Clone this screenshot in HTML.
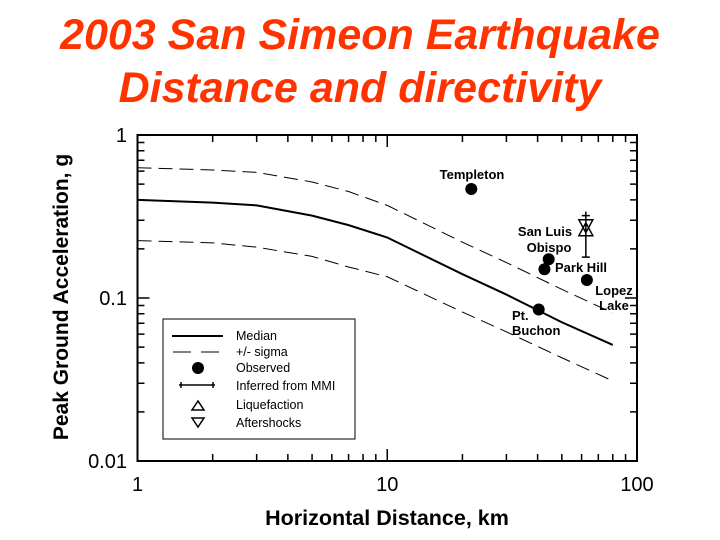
<!DOCTYPE html>
<html><head><meta charset="utf-8"><style>
body{margin:0;background:#fff;width:720px;height:540px;overflow:hidden;font-family:"Liberation Sans",sans-serif}
.t{position:absolute;left:0;width:720px;text-align:center;color:#ff3300;font-style:italic;font-weight:bold;font-size:43px;line-height:50px;white-space:nowrap}
</style></head><body>
<div class="t" style="top:10px">2003 San Simeon Earthquake</div>
<div class="t" style="top:63px">Distance and directivity</div>
<svg id="c" width="720" height="540" style="position:absolute;left:0;top:0"></svg>
<script>
const dist=[1,2,3,5,7,10,20,30,50,80];
const median=[0.40,0.385,0.37,0.32,0.28,0.235,0.14,0.105,0.071,0.0515];
const upper=[0.63,0.61,0.59,0.515,0.45,0.37,0.22,0.165,0.113,0.081];
const lower=[0.225,0.218,0.205,0.18,0.155,0.135,0.082,0.062,0.043,0.031];
const obsNames=["Templeton","San Luis Obispo","San Luis Obispo 2","Lopez Lake","Pt. Buchon"];
const obsDist=[21.7,44.3,42.6,63,40.4];
const obsPga=[0.466,0.173,0.15,0.129,0.085];
const mmiDist=[62.4];const mmiLo=[0.178];const mmiHi=[0.32];const liqPga=[0.27];
const xTicks=[1,10,100];const yTicks=[1,0.1,0.01];const yTickLabels=["1","0.1","0.01"];
const L=137.5,R=637,T=135,B=461;
const X=d=>L+(R-L)/2*Math.log10(d);
const Y=v=>T+(B-T)/2*(-Math.log10(v));
const s=document.getElementById('c');const NS='http://www.w3.org/2000/svg';
function mk(tag,a,p){const e=document.createElementNS(NS,tag);for(const k in a)e.setAttribute(k,a[k]);(p||s).appendChild(e);return e;}
let f=mk('rect',{x:L,y:T,width:R-L,height:B-T,fill:'none',stroke:'#000','stroke-width':2});


let tp='';
for(let dec=0;dec<2;dec++)for(let k=1;k<=9;k++){const v=Math.pow(10,dec)*k;const x=X(v);const len=k==1?12:7;
 tp+=`M${x},${B}v${-len}M${x},${T}v${len}`;
 const y=Y(Math.pow(10,-dec-1)*k*1);const ylen=k==1?12:7;
 tp+=`M${L},${y}h${ylen}M${R},${y}h${-ylen}`;}
let tk=mk('path',{d:tp,stroke:'#000','stroke-width':1.5,fill:'none'});


xTicks.forEach(v=>{const t=mk('text',{x:X(v),y:B+30,'text-anchor':'middle','font-size':20});t.textContent=String(v);

});
yTicks.forEach((v,i)=>{const t=mk('text',{x:127,y:Y(v)+7,'text-anchor':'end','font-size':20});t.textContent=yTickLabels[i];

});
let xt=mk('text',{x:387,y:525,'text-anchor':'middle','font-size':21.5,'font-weight':'bold'});xt.textContent='Horizontal Distance, km';


let yt=mk('text',{x:0,y:0,transform:'translate(68,297) rotate(-90)','text-anchor':'middle','font-size':21,'font-weight':'bold'});yt.textContent='Peak Ground Acceleration, g';


const pts=a=>dist.map((d,i)=>X(d)+','+Y(a[i])).join(' ');
let m=mk('polyline',{points:pts(median),fill:'none',stroke:'#000','stroke-width':2});


[upper,lower].forEach((a,i)=>{const p=mk('polyline',{points:pts(a),fill:'none',stroke:'#000','stroke-width':1,'stroke-dasharray':'14,7'});

});
obsDist.forEach((d,i)=>{const c=mk('circle',{cx:X(d),cy:Y(obsPga[i]),r:6,fill:'#000'});

});
mmiDist.forEach((d,i)=>{const x=X(d),y1=Y(mmiHi[i]),y2=Y(mmiLo[i]),yc=Y(liqPga[i]);
const g=mk('path',{d:`M${x},${y1-4}V${y2}M${x-4},${y1}h8M${x-4},${y2}h8M${x-7},${yc-8}h14l-7,13zM${x-7},${yc+8}h14l-7,-13z`,stroke:'#000','stroke-width':1.5,fill:'none'});

});
const labs=[["Templeton",472,179,'middle'],["San Luis",545,236,'middle'],["Obispo",549,252,'middle'],["Park Hill",555,272,'start'],["Lopez",614,295,'middle'],["Lake",614,310,'middle'],["Pt.",512,320,'start'],["Buchon",512,335,'start']];
labs.forEach(l=>{const t=mk('text',{x:l[1],y:l[2],'text-anchor':l[3],'font-size':13,'font-weight':'bold'});t.textContent=l[0];

});
let lg=mk('g',{});


mk('rect',{x:163,y:319,width:192,height:120,fill:'#fff',stroke:'#000','stroke-width':1},lg);
const items=[['Median',336],['+/- sigma',352],['Observed',368],['Inferred from MMI',386],['Liquefaction',405],['Aftershocks',423]];
items.forEach(it=>{const t=mk('text',{x:236,y:it[1]+4,'font-size':12.5},lg);t.textContent=it[0];

});
mk('line',{x1:172,y1:336,x2:223,y2:336,stroke:'#000','stroke-width':2},lg);
mk('line',{x1:173,y1:352,x2:223,y2:352,stroke:'#000','stroke-width':1,'stroke-dasharray':'18,10'},lg);
mk('circle',{cx:198,cy:368,r:6,fill:'#000'},lg);
mk('path',{d:'M179,385h36M181,382v6M213,382v6M192,410h12l-6,-9zM192,418h12l-6,9z',stroke:'#000','stroke-width':1.5,fill:'none'},lg);
</script>
</body></html>
